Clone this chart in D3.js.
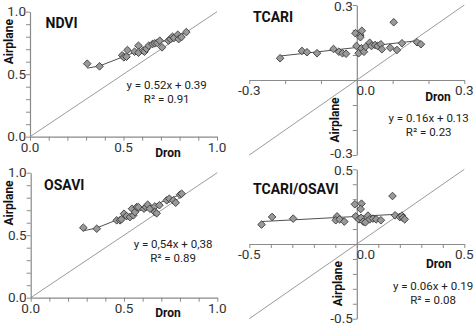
<!DOCTYPE html>
<html>
<head>
<meta charset="utf-8">
<script src="https://cdn.jsdelivr.net/npm/d3@7"></script>
<style>
  body { margin: 0; background: #fff; }
  svg { font-family: Roboto, "Open Sans", sans-serif; }
  .lbl { font-size: 13.5px; fill: #333; }
  .ttl { font-size: 14px; font-weight: bold; fill: #111; }
  .axt { font-size: 12px; font-weight: bold; fill: #111; }
  .eq { font-size: 11.5px; fill: #222; }
</style>
</head>
<body>
<div id="chart"></div>
<script>
// NDVI
const ndviDron     = [0.306, 0.372, 0.493, 0.502, 0.516, 0.521, 0.559, 0.580, 0.580, 0.605, 0.612, 0.623, 0.635, 0.655, 0.667, 0.680, 0.694, 0.706, 0.740, 0.751, 0.762, 0.770, 0.790, 0.795, 0.810, 0.836];
const ndviAirplane = [0.584, 0.563, 0.651, 0.635, 0.640, 0.693, 0.680, 0.728, 0.672, 0.690, 0.680, 0.704, 0.728, 0.741, 0.747, 0.750, 0.768, 0.715, 0.768, 0.781, 0.800, 0.790, 0.816, 0.781, 0.797, 0.837];
const ndviTrendX = [0.306, 0.372, 0.836];
const ndviTrendY = [0.548, 0.566, 0.835];

// OSAVI
const osaviDron     = [0.282, 0.354, 0.461, 0.479, 0.486, 0.500, 0.514, 0.532, 0.543, 0.550, 0.559, 0.568, 0.577, 0.607, 0.618, 0.627, 0.639, 0.665, 0.665, 0.675, 0.690, 0.729, 0.743, 0.764, 0.777, 0.800, 0.809];
const osaviAirplane = [0.560, 0.552, 0.619, 0.619, 0.627, 0.672, 0.653, 0.645, 0.712, 0.659, 0.685, 0.725, 0.725, 0.712, 0.725, 0.744, 0.712, 0.730, 0.685, 0.675, 0.740, 0.779, 0.792, 0.779, 0.760, 0.824, 0.832];
const osaviTrendX = [0.282, 0.354, 0.810];
const osaviTrendY = [0.535, 0.558, 0.830];

// TCARI
const tcariDron     = [-0.214, -0.153, -0.139, -0.111, -0.065, -0.050, -0.040, -0.030, -0.004, 0.010, 0.014, 0.010, -0.001, 0.005, 0.013, 0.020, 0.025, 0.036, 0.041, 0.051, 0.058, 0.067, 0.070, 0.093, 0.103, 0.112, 0.126, 0.168, 0.179];
const tcariAirplane = [0.087, 0.116, 0.111, 0.107, 0.124, 0.113, 0.107, 0.105, 0.187, 0.180, 0.197, 0.171, 0.136, 0.107, 0.127, 0.113, 0.133, 0.149, 0.136, 0.140, 0.136, 0.143, 0.123, 0.129, 0.231, 0.120, 0.147, 0.151, 0.143];
const tcariTrendX = [-0.214, 0.168];
const tcariTrendY = [0.096, 0.157];

// TCARI/OSAVI
const toDron     = [-0.443, -0.394, -0.296, -0.092, -0.098, -0.080, -0.058, -0.009, 0.022, 0.018, -0.005, 0.010, 0.020, 0.030, 0.040, 0.052, 0.060, 0.075, 0.090, 0.112, 0.166, 0.178, 0.200, 0.210, 0.215, 0.223];
const toAirplane = [0.130, 0.181, 0.170, 0.185, 0.159, 0.165, 0.150, 0.266, 0.270, 0.234, 0.185, 0.165, 0.175, 0.150, 0.145, 0.190, 0.165, 0.170, 0.165, 0.159, 0.321, 0.192, 0.180, 0.190, 0.175, 0.165];
const toTrendX = [-0.446, 0.200];
const toTrendY = [0.150, 0.200];

const W = 474, H = 325;
const axisCol = "#8a8a8a";

const svg = d3.select("#chart").append("svg")
  .attr("width", W).attr("height", H);

function ticksOf(lo, hi) {
  const n = Math.round((hi - lo) / 0.1);
  return d3.range(n + 1).map(i => +(lo + i * 0.1).toFixed(2));
}

function drawPanel(p) {
  const x = d3.scaleLinear().domain(p.dom).range(p.xr);
  const y = d3.scaleLinear().domain(p.dom).range(p.yr);
  const g = svg.append("g");
  const x0 = p.crossed ? x(0) : p.xr[0];
  const y0 = p.crossed ? y(0) : p.yr[0];

  // 1:1 line
  g.append("line")
    .attr("x1", x(p.dom[0])).attr("y1", y(p.dom[0]))
    .attr("x2", x(p.dom[1])).attr("y2", y(p.dom[1]))
    .attr("stroke", "#8f8f8f").attr("stroke-width", 0.9);

  // axes
  const xa = g.append("g").attr("transform", `translate(0,${y0})`)
    .call(d3.axisBottom(x).tickValues(ticksOf(p.dom[0], p.dom[1])).tickSize(4).tickSizeOuter(0).tickFormat(""));
  const ya = g.append("g").attr("transform", `translate(${x0},0)`)
    .call(d3.axisLeft(y).tickValues(ticksOf(p.dom[0], p.dom[1])).tickSize(4).tickSizeOuter(0).tickFormat(""));
  [xa, ya].forEach(a => {
    a.select(".domain").attr("stroke", axisCol).attr("stroke-width", 1.2);
    a.selectAll(".tick line").attr("stroke", axisCol);
  });

  // trend
  const tr = p.tx.map((v, i) => [v, p.ty[i]]);
  g.append("path")
    .attr("d", d3.line().x(d => x(d[0])).y(d => y(d[1]))(tr))
    .attr("fill", "none").attr("stroke", "#505050").attr("stroke-width", 1);

  // points
  const pts = p.px.map((v, i) => [v, p.py[i]]);
  g.selectAll("path.pt").data(pts).enter().append("path")
    .attr("class", "pt")
    .attr("d", d3.symbol(d3.symbolSquare, 29)())
    .attr("transform", d => `translate(${x(d[0])},${y(d[1])}) rotate(45)`)
    .attr("fill", "#999").attr("stroke", "#333").attr("stroke-width", 0.8);

  // tick labels
  p.xLabels.forEach(l => {
    g.append("text").attr("class", "lbl")
      .attr("x", x(l.v) + (l.dx || 0)).attr("y", y0 + 15)
      .attr("text-anchor", "middle").text(l.t);
  });
  p.yLabels.forEach(l => {
    g.append("text").attr("class", "lbl")
      .attr("x", x0 - 4).attr("y", y(l.v) + 4.5 + (l.dy || 0))
      .attr("text-anchor", "end").text(l.t);
  });

  g.append("text").attr("class", "ttl").attr("x", p.title[0]).attr("y", p.title[1]).text(p.name);
  g.append("text").attr("class", "axt").attr("x", p.dron[0]).attr("y", p.dron[1])
    .attr("text-anchor", "middle").text("Dron");
  g.append("text").attr("class", "axt")
    .attr("transform", `translate(${p.air[0]},${p.air[1]}) rotate(-90)`)
    .attr("text-anchor", "middle").text("Airplane");
  g.append("text").attr("class", "eq").attr("x", p.eq[0]).attr("y", p.eq[1])
    .attr("text-anchor", "middle").text(p.eqText);
  g.append("text").attr("class", "eq").attr("x", p.eq[0]).attr("y", p.eq[1] + 14)
    .attr("text-anchor", "middle").text(p.r2Text);
}

drawPanel({
  name: "NDVI", dom: [0, 1], xr: [30, 217], yr: [136.7, 11.7], crossed: false,
  px: ndviDron, py: ndviAirplane, tx: ndviTrendX, ty: ndviTrendY,
  xLabels: [{v: 0, t: "0.0"}, {v: 0.5, t: "0.5"}, {v: 1, t: "1.0"}],
  yLabels: [{v: 0, t: "0.0"}, {v: 0.5, t: "0.5"}, {v: 1, t: "1.0"}],
  title: [45.5, 28], dron: [168, 157], air: [13, 41.7],
  eq: [166.7, 89], eqText: "y = 0.52x + 0.39", r2Text: "R² = 0.91"
});

drawPanel({
  name: "OSAVI", dom: [0, 1], xr: [30.7, 217.3], yr: [297.7, 172.7], crossed: false,
  px: osaviDron, py: osaviAirplane, tx: osaviTrendX, ty: osaviTrendY,
  xLabels: [{v: 0, t: "0.0"}, {v: 0.5, t: "0.5"}, {v: 1, t: "1.0"}],
  yLabels: [{v: 0, t: "0.0"}, {v: 0.5, t: "0.5"}, {v: 1, t: "1.0"}],
  title: [44, 190], dron: [168, 317], air: [13, 203],
  eq: [173, 248], eqText: "y = 0,54x + 0,38", r2Text: "R² = 0.89"
});

drawPanel({
  name: "TCARI", dom: [-0.3, 0.3], xr: [249.3, 464.3], yr: [155, 5], crossed: true,
  px: tcariDron, py: tcariAirplane, tx: tcariTrendX, ty: tcariTrendY,
  xLabels: [{v: -0.3, t: "-0.3"}, {v: 0, t: "0.0", dx: 9}, {v: 0.3, t: "0.3"}],
  yLabels: [{v: 0.3, t: "0.3", dy: 1}, {v: -0.3, t: "-0.3", dy: -1.5}],
  title: [253, 22], dron: [438, 101], air: [339, 120],
  eq: [428.7, 122], eqText: "y = 0.16x + 0.13", r2Text: "R² = 0.23"
});

drawPanel({
  name: "TCARI/OSAVI", dom: [-0.5, 0.5], xr: [249.3, 464.3], yr: [318.7, 169.3], crossed: true,
  px: toDron, py: toAirplane, tx: toTrendX, ty: toTrendY,
  xLabels: [{v: -0.5, t: "-0.5"}, {v: 0, t: "0.0", dx: 9}, {v: 0.5, t: "0.5"}],
  yLabels: [{v: 0.5, t: "0.5", dy: 1.5}, {v: -0.5, t: "-0.5"}],
  title: [253, 193.5], dron: [438.7, 268], air: [342, 283.7],
  eq: [433, 289.5], eqText: "y = 0.06x + 0.19", r2Text: "R² = 0.08"
});
</script>
</body>
</html>
